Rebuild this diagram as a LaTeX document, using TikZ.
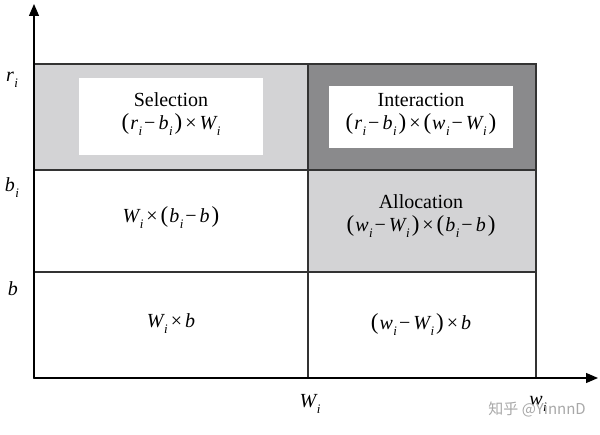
\documentclass[tikz,border=0pt]{standalone}
\usepackage{fontspec}
\setmainfont{Liberation Serif}
\newfontfamily\cjk{Noto Sans CJK SC}
\usetikzlibrary{arrows.meta}
\definecolor{lightcell}{HTML}{D3D3D5}
\definecolor{darkcell}{HTML}{8A8A8C}
\definecolor{gridline}{HTML}{333333}
\definecolor{wm}{HTML}{A8A8A8}
\newcommand\vs[3][0.5pt]{\textit{#2}\kern#1\raisebox{-0.3em}{\fontsize{13}{14}\selectfont\textit{#3}}}
\newcommand\mn{\kern2pt−\kern3pt}
\newcommand\tm{\kern3pt×\kern3pt}
\newcommand\lp{{\fontsize{23}{23}\selectfont(}\kern1pt}
\newcommand\rp{\kern2pt{\fontsize{23}{23}\selectfont)}}
\tikzset{
  cell/.style={draw=gridline, line width=1.3pt},
  txt/.style={align=center, font=\fontsize{20}{23}\selectfont, inner sep=0pt},
  axlab/.style={font=\fontsize{20}{23}\selectfont, inner sep=0pt},
  axis/.style={draw=black, line width=1.3pt, -{Triangle[length=12pt,width=10pt]}},
}
\begin{document}
\begin{tikzpicture}[x=1pt,y=-1pt]
\useasboundingbox (0,0) rectangle (600,435);
% cells
\filldraw[cell, fill=lightcell] (34,64) rectangle (308,170);
\filldraw[cell, fill=darkcell] (308,64) rectangle (536,170);
\filldraw[cell, fill=white] (34,170) rectangle (308,272);
\filldraw[cell, fill=lightcell] (308,170) rectangle (536,272);
\filldraw[cell, fill=white] (34,272) rectangle (308,378);
\filldraw[cell, fill=white] (308,272) rectangle (536,378);
% white boxes
\fill[white] (79,78) rectangle (263,155);
\fill[white] (329,86) rectangle (513,148);
% axes
\coordinate (o) at (34,378);
\coordinate (ytip) at (34,4);
\coordinate (xtip) at (598,378);
\draw[axis] (o) -- (ytip);
\draw[axis] (o) -- (xtip);
% texts
\node[txt] (sel) at (171,114) {Selection\\\lp\vs{r}{i}\mn\vs{b}{i}\rp\tm\vs[-1pt]{W}{i}};
\node[txt] (int) at (421,114) {Interaction\\\lp\vs{r}{i}\mn\vs{b}{i}\rp\tm\lp\vs{w}{i}\mn\vs[-1pt]{W}{i}\rp};
\node[txt] (wb) at (171,218) {\vs[-1pt]{W}{i}\tm\lp\vs{b}{i}\mn\textit{b}\rp};
\node[txt] (alloc) at (421,216) {Allocation\\\lp\vs{w}{i}\mn\vs[-1pt]{W}{i}\rp\tm\lp\vs{b}{i}\mn\textit{b}\rp};
\node[txt] (wbb) at (171,324) {\vs[-1pt]{W}{i}\tm\textit{b}};
\node[txt] (wwb) at (421,325) {\lp\vs{w}{i}\mn\vs[-1pt]{W}{i}\rp\tm\textit{b}};
% axis labels
\node[axlab] (lr) at (12,80) {\vs{r}{i}};
\node[axlab] (lbi) at (12,188) {\vs{b}{i}};
\node[axlab] (lb) at (13,289) {\textit{b}};
\node[axlab] (lW) at (310,404) {\vs[-1pt]{W}{i}};
\node[axlab] (lw) at (538,404) {\vs{w}{i}};
\node[inner sep=0pt, text=wm, font=\cjk\fontsize{15}{18}\selectfont, anchor=east] (wmk) at (586,409) {知乎 @YinnnD};
\end{tikzpicture}
\end{document}
